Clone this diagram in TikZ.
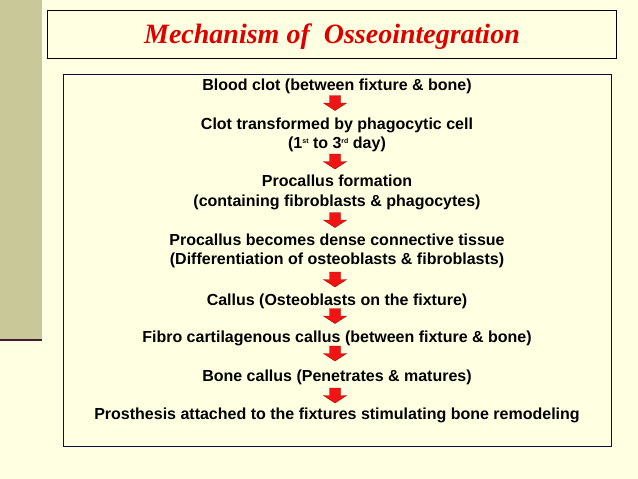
\documentclass[tikz,border=0pt]{standalone}
\usepackage{fontspec}
\setmainfont{Liberation Sans}
\newfontfamily\titlefont{Liberation Serif}
\definecolor{bgcol}{RGB}{255,255,226}
\definecolor{stripcol}{RGB}{200,200,152}
\definecolor{rulecol}{RGB}{70,25,55}
\definecolor{boxline}{RGB}{10,10,70}
\definecolor{titlecol}{RGB}{222,0,0}
\definecolor{arrowfill}{RGB}{240,20,20}
\definecolor{arrowline}{RGB}{175,0,0}
\tikzset{
  stage/.style={font=\bfseries\fontsize{16}{19.5}\selectfont,align=center,inner sep=0pt},
  titletext/.style={font=\titlefont\bfseries\itshape\fontsize{28}{30}\selectfont,text=titlecol,inner sep=0pt},
  downarr/.pic={
    \draw[arrowline,fill=arrowfill,line width=0.4pt,line join=miter]
      (-5.5,-7.5) -- (5.5,-7.5) -- (5.5,0) -- (11.5,0) -- (0,7.5) -- (-11.5,0) -- (-5.5,0) -- cycle;
  },
}
\newcommand{\sups}[1]{\raisebox{0.6ex}{\fontsize{7}{7}\selectfont #1}}

\begin{document}
\begin{tikzpicture}[x=1pt,y=-1pt]
  % background and side strip
  \fill[bgcol] (0,0) rectangle (638,479);
  \useasboundingbox (0,0) rectangle (638,479);
  \fill[stripcol] (0,0) rectangle (42,340);
  \draw[rulecol,line width=2.2pt] (0,340) -- (42,340);
  % title
  \draw[black,line width=0.8pt] (47.5,10.5) rectangle (616.5,58.3);
  \node[titletext] (title) at (332,37) {Mechanism of\ \ Osseointegration};
  % flow
  \draw[boxline,line width=0.8pt] (63.3,74.7) rectangle (611.3,446.5);
  \node[stage] (s1) at (337,86) {Blood clot (between fixture \& bone)};
  \node[stage] (s2) at (337,135) {Clot transformed by phagocytic cell\\(1\sups{st} to 3\sups{rd} day)};
  \node[stage] (s3) at (337,192.5) {Procallus formation\\(containing fibroblasts \& phagocytes)};
  \node[stage] (s4) at (337,251) {Procallus becomes dense connective tissue\\(Differentiation of osteoblasts \& fibroblasts)};
  \node[stage] (s5) at (337,301) {Callus (Osteoblasts on the fixture)};
  \node[stage] (s6) at (337,338.5) {Fibro cartilagenous callus (between fixture \& bone)};
  \node[stage] (s7) at (337,377) {Bone callus (Penetrates \& matures)};
  \node[stage] (s8) at (337,415) {Prosthesis attached to the fixtures stimulating bone remodeling};
  \pic (a1) at (335,103) {downarr};
  \pic (a2) at (335,161.5) {downarr};
  \pic (a3) at (335,220) {downarr};
  \pic (a4) at (335,279.5) {downarr};
  \pic (a5) at (335,316) {downarr};
  \pic (a6) at (335,353.5) {downarr};
  \pic (a7) at (335,395.5) {downarr};
\end{tikzpicture}
\end{document}
